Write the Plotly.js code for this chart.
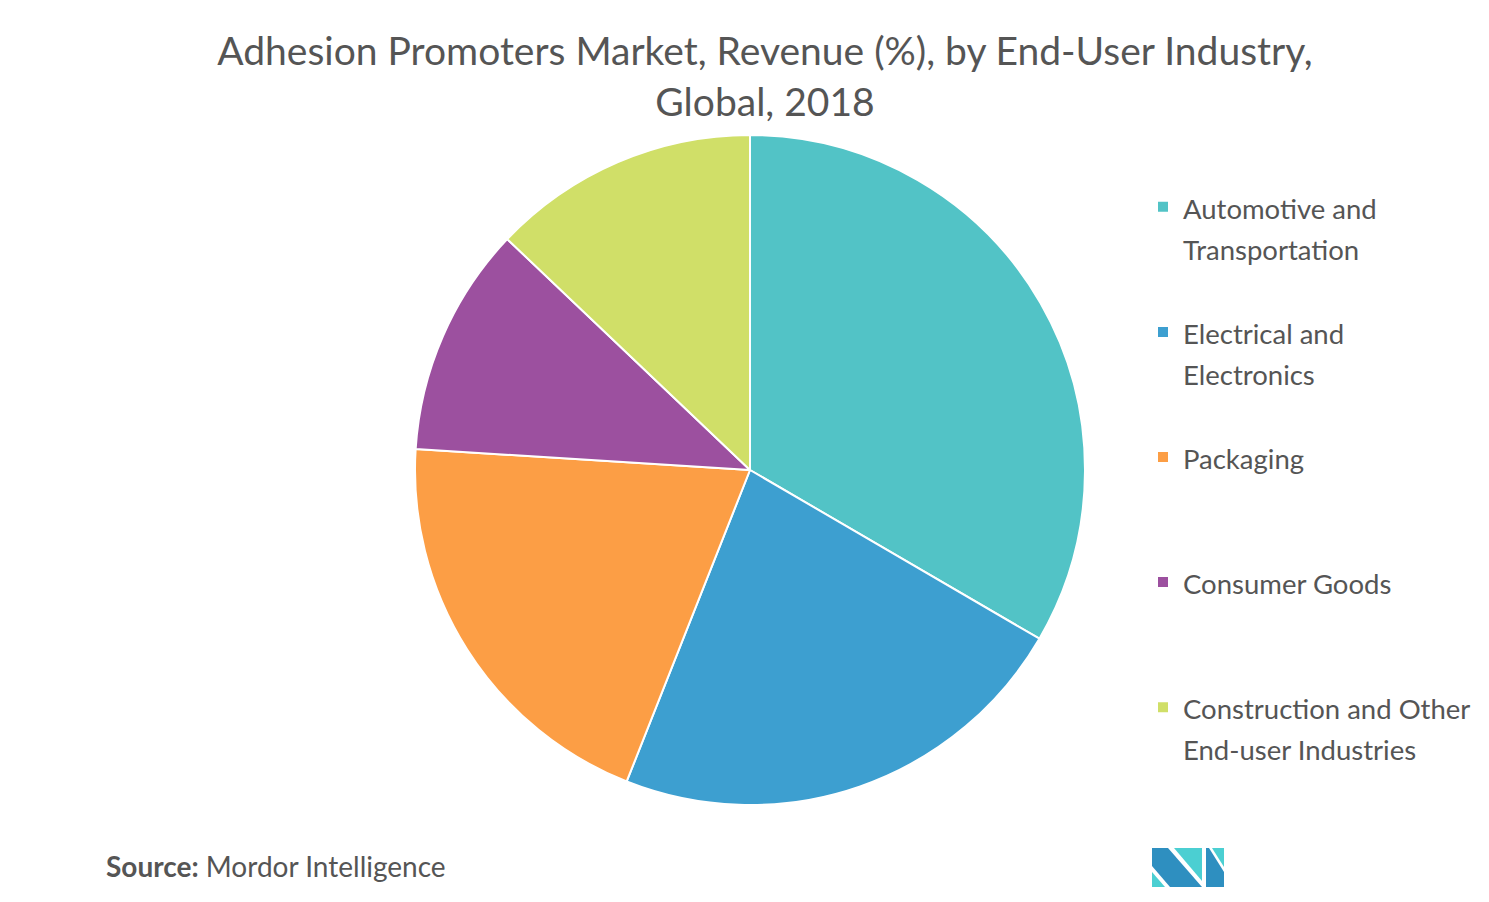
<!DOCTYPE html>
<html>
<head>
<meta charset="utf-8">
<script src="https://cdn.plot.ly/plotly-3.0.1.min.js"></script>
<style>html,body{margin:0;padding:0;background:#fff;}#chart{width:1489px;height:902px;}</style>
</head>
<body>
<div id="chart"></div>
<script>
const categories = [
  "Automotive and<br>Transportation",
  "Electrical and<br>Electronics",
  "Packaging",
  "Consumer Goods",
  "Construction and Other<br>End-user Industries"
];
const shares = [33.4, 22.6, 20.0, 11.1, 12.9];
const colors = ["#52C3C6", "#3D9FD0", "#FC9E45", "#9C509F", "#D0DF68"];

const W = 1489, H = 902;
const px = x => x / W;
const py = y => 1 - y / H;

// legend labels padded to equal height (visible text at smaller size)
const legendLabels = categories.map(c => {
  const lines = c.split("<br>");
  while (lines.length < 3) lines.push(" ");
  return lines.map(l => '<span style="font-size:27.5px">' + l + '</span>').join("<br>");
});

const cx = 750, cy = 470, r = 335;

const trace = {
  type: "pie",
  labels: legendLabels,
  values: shares,
  sort: false,
  direction: "clockwise",
  rotation: 0,
  textinfo: "none",
  hoverinfo: "label+percent",
  marker: { colors: colors, line: { color: "#ffffff", width: 2 } },
  domain: { x: [px(cx - r), px(cx + r)], y: [py(cy + r), py(cy - r)] }
};

function poly(pts, color) {
  return {
    type: "path", xref: "paper", yref: "paper",
    path: "M" + pts.map(p => px(p[0]) + "," + py(p[1])).join("L") + "Z",
    fillcolor: color, line: { width: 0 }
  };
}
const dark = "#2E8FC0", light = "#4BCFD2";

const layout = {
  width: W, height: H,
  margin: { l: 0, r: 0, t: 0, b: 0 },
  paper_bgcolor: "#ffffff",
  font: { family: "Lato, 'Open Sans', sans-serif", color: "#555555" },
  title: {
    text: "Adhesion Promoters Market, Revenue (%), by End-User Industry,<br>Global, 2018",
    font: { family: "Lato, sans-serif", size: 39, color: "#555555" },
    x: px(765), xanchor: "center", xref: "paper",
    y: py(65), yanchor: "top", yref: "container"
  },
  showlegend: true,
  legend: {
    x: px(1143), xanchor: "left",
    y: py(180), yanchor: "top",
    valign: "top",
    font: { family: "Lato, sans-serif", size: 31.3, color: "#555555" },
    bgcolor: "rgba(0,0,0,0)",
    traceorder: "normal"
  },
  annotations: [{
    text: "<b>Source:</b> Mordor Intelligence",
    x: px(104), y: py(866), xref: "paper", yref: "paper",
    xanchor: "left", yanchor: "middle", showarrow: false,
    font: { family: "Lato, sans-serif", size: 28, color: "#555555" }
  }],
  shapes: [
    poly([[1152,848],[1168,848],[1202,887],[1170,887],[1152,866]], dark),
    poly([[1152,872],[1152,887],[1165,887]], light),
    poly([[1174,848],[1202,848],[1202,881]], light),
    poly([[1206,848],[1209,848],[1224,872],[1224,887],[1206,887]], dark),
    poly([[1212,848],[1224,848],[1224,867]], light)
  ]
};

Plotly.newPlot("chart", [trace], layout, { displayModeBar: false, staticPlot: false });
</script>
</body>
</html>
